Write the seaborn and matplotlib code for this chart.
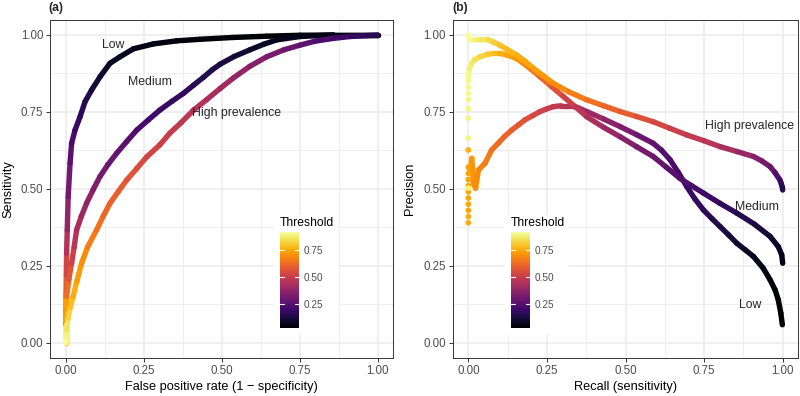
import numpy as np
import matplotlib
matplotlib.use("Agg")
import matplotlib.pyplot as plt
from matplotlib.collections import LineCollection
from matplotlib.colors import Normalize
from matplotlib.cm import ScalarMappable
from matplotlib.patches import Rectangle
import seaborn as sns

# ---- ROC curves: false positive rate, sensitivity, threshold ----
roc_low_fpr = [0.0, 0.0, 0.001, 0.002, 0.003, 0.005, 0.008, 0.014, 0.019, 0.030, 0.046,
               0.062, 0.083, 0.110, 0.142, 0.174, 0.217, 0.281, 0.356, 0.43, 0.537,
               0.644, 0.751, 0.858, 1.0]
roc_low_sens = [0.0, 0.06, 0.15, 0.22, 0.29, 0.366, 0.474, 0.583, 0.648, 0.691, 0.734,
                0.783, 0.821, 0.864, 0.908, 0.929, 0.955, 0.971, 0.981, 0.986, 0.992,
                0.996, 0.999, 1.0, 1.0]
roc_low_thr = [0.76, 0.68, 0.62, 0.56, 0.50, 0.42, 0.35, 0.28, 0.24, 0.21, 0.18,
               0.15, 0.13, 0.11, 0.09, 0.08, 0.07, 0.06, 0.055, 0.05, 0.045,
               0.04, 0.035, 0.032, 0.03]

roc_med_fpr = [0.0, 0.0, 0.003, 0.010, 0.019, 0.027, 0.035, 0.050, 0.067, 0.088, 0.110,
               0.135, 0.163, 0.195, 0.228, 0.265, 0.302, 0.340, 0.377, 0.410, 0.441,
               0.470, 0.495, 0.540, 0.591, 0.635, 0.676, 0.751, 0.858, 1.0]
roc_med_sens = [0.0, 0.07, 0.15, 0.205, 0.258, 0.31, 0.366, 0.41, 0.453, 0.497, 0.540,
                0.578, 0.615, 0.653, 0.691, 0.724, 0.756, 0.784, 0.810, 0.837, 0.862,
                0.887, 0.905, 0.930, 0.952, 0.970, 0.984, 0.995, 1.0, 1.0]
roc_med_thr = [0.90, 0.80, 0.66, 0.60, 0.54, 0.49, 0.45, 0.42, 0.39, 0.36, 0.33,
               0.30, 0.28, 0.26, 0.24, 0.22, 0.20, 0.19, 0.18, 0.16, 0.15,
               0.14, 0.13, 0.12, 0.10, 0.09, 0.08, 0.07, 0.065, 0.06]

roc_high_fpr = [0.0, 0.001, 0.003, 0.008, 0.015, 0.024, 0.036, 0.051, 0.070, 0.099, 0.120,
                0.142, 0.168, 0.196, 0.228, 0.260, 0.302, 0.334, 0.370, 0.409, 0.452,
                0.495, 0.537, 0.590, 0.644, 0.700, 0.751, 0.800, 0.858, 0.910, 0.965, 1.0]
roc_high_sens = [0.0, 0.02, 0.04, 0.08, 0.115, 0.15, 0.20, 0.258, 0.31, 0.366, 0.41,
                 0.453, 0.49, 0.529, 0.566, 0.604, 0.643, 0.681, 0.715, 0.755, 0.79,
                 0.826, 0.86, 0.898, 0.929, 0.952, 0.967, 0.98, 0.989, 0.995, 0.998, 1.0]
roc_high_thr = [0.92, 0.90, 0.88, 0.84, 0.80, 0.77, 0.74, 0.71, 0.68, 0.65, 0.63,
                0.61, 0.60, 0.58, 0.56, 0.54, 0.52, 0.50, 0.49, 0.47, 0.45,
                0.43, 0.40, 0.37, 0.34, 0.31, 0.28, 0.25, 0.22, 0.19, 0.17, 0.15]

# ---- PR curves: recall, precision, threshold ----
pr_low_rec = [0.005, 0.011, 0.016, 0.023, 0.032, 0.053, 0.074, 0.095, 0.115, 0.138,
              0.160, 0.180, 0.205, 0.228, 0.250, 0.270, 0.295, 0.323, 0.35, 0.377,
              0.43, 0.483, 0.535, 0.588, 0.615, 0.642, 0.668, 0.695, 0.72, 0.748,
              0.775, 0.801, 0.828, 0.854, 0.88, 0.907, 0.938, 0.960, 0.976, 0.986,
              0.994, 0.999]
pr_low_prec = [0.55, 0.599, 0.518, 0.502, 0.561, 0.583, 0.626, 0.648, 0.67, 0.691,
               0.708, 0.724, 0.738, 0.751, 0.760, 0.767, 0.77, 0.77, 0.763, 0.751,
               0.727, 0.702, 0.676, 0.648, 0.625, 0.594, 0.553, 0.507, 0.468, 0.431,
               0.403, 0.377, 0.350, 0.323, 0.302, 0.280, 0.242, 0.204, 0.171, 0.139,
               0.096, 0.058]
pr_low_thr = [0.74, 0.72, 0.71, 0.70, 0.69, 0.67, 0.65, 0.63, 0.615, 0.60,
              0.585, 0.57, 0.55, 0.53, 0.515, 0.50, 0.48, 0.46, 0.44, 0.42,
              0.385, 0.35, 0.315, 0.28, 0.26, 0.24, 0.22, 0.20, 0.185, 0.17,
              0.155, 0.14, 0.125, 0.11, 0.095, 0.08, 0.065, 0.055, 0.045, 0.04,
              0.035, 0.03]

pr_med_rec = [0.0, 0.003, 0.011, 0.02, 0.037, 0.06, 0.080, 0.10, 0.122, 0.15,
              0.175, 0.20, 0.228, 0.265, 0.302, 0.34, 0.377, 0.43, 0.483, 0.535,
              0.588, 0.63, 0.673, 0.71, 0.748, 0.80, 0.854, 0.91, 0.96, 0.986,
              0.997, 1.0]
pr_med_prec = [0.86, 0.89, 0.908, 0.92, 0.929, 0.937, 0.940, 0.94, 0.935, 0.925,
               0.908, 0.888, 0.864, 0.832, 0.800, 0.767, 0.734, 0.70, 0.669, 0.637,
               0.605, 0.57, 0.534, 0.51, 0.486, 0.453, 0.421, 0.385, 0.345, 0.312,
               0.285, 0.258]
pr_med_thr = [0.90, 0.89, 0.87, 0.86, 0.84, 0.81, 0.79, 0.77, 0.75, 0.73,
              0.70, 0.67, 0.64, 0.59, 0.54, 0.50, 0.46, 0.42, 0.38, 0.34,
              0.30, 0.275, 0.25, 0.23, 0.21, 0.185, 0.16, 0.135, 0.11, 0.09,
              0.075, 0.06]

pr_high_rec = [0.0, 0.005, 0.021, 0.04, 0.064, 0.08, 0.10, 0.12, 0.154, 0.18,
               0.207, 0.24, 0.270, 0.32, 0.377, 0.43, 0.483, 0.535, 0.588, 0.64,
               0.695, 0.75, 0.801, 0.855, 0.907, 0.933, 0.960, 0.976, 0.991, 0.995,
               0.999, 1.0]
pr_high_prec = [1.0, 0.985, 0.984, 0.985, 0.984, 0.977, 0.967, 0.955, 0.935, 0.915,
                0.892, 0.866, 0.843, 0.815, 0.789, 0.770, 0.751, 0.735, 0.718, 0.697,
                0.675, 0.656, 0.637, 0.621, 0.605, 0.591, 0.572, 0.552, 0.529, 0.518,
                0.505, 0.496]
pr_high_thr = [0.92, 0.91, 0.89, 0.87, 0.84, 0.82, 0.80, 0.78, 0.77, 0.75,
               0.74, 0.72, 0.71, 0.68, 0.65, 0.62, 0.60, 0.58, 0.55, 0.52,
               0.50, 0.48, 0.46, 0.42, 0.37, 0.34, 0.31, 0.27, 0.22, 0.19,
               0.16, 0.13]

# scattered points at recall = 0
pr_low_dots = [0.39, 0.41, 0.43, 0.45, 0.47, 0.49, 0.51, 0.53, 0.55, 0.57, 0.626]
pr_low_dots_thr = [0.75, 0.75, 0.74, 0.74, 0.74, 0.74, 0.74, 0.74, 0.74, 0.73, 0.76]
pr_med_dots = [0.502, 0.665, 0.73, 0.76, 0.79, 0.81, 0.83, 0.85, 0.87]
pr_med_dots_thr = [0.88, 0.89, 0.89, 0.89, 0.89, 0.90, 0.90, 0.90, 0.90]

all_thr = roc_low_thr + roc_med_thr + roc_high_thr + pr_low_thr + pr_med_thr + pr_high_thr
norm = Normalize(min(all_thr), max(all_thr))
cmap = "inferno"

sns.set_theme(style="whitegrid")
plt.rcParams['font.family'] = ['Liberation Sans', 'DejaVu Sans']

TICK_COL = '#4D4D4D'
GRID_COL = '#EBEBEB'


def draw_curve(ax, x, y, thr):
    pts = np.column_stack([x, y])
    segs = np.stack([pts[:-1], pts[1:]], axis=1)
    thr = np.asarray(thr)
    lc = LineCollection(segs, cmap=cmap, norm=norm, linewidths=3.9,
                        capstyle="round", joinstyle="round", zorder=2)
    lc.set_array((thr[:-1] + thr[1:]) / 2)
    ax.add_collection(lc)


def draw_dots(ax, x, y, thr):
    sns.scatterplot(x=x, y=y, hue=thr, palette=cmap, hue_norm=norm, s=17,
                    linewidth=0, legend=False, ax=ax, zorder=3)


def style_axis(ax, xlabel, ylabel):
    ax.set_xlim(-0.05, 1.05)
    ax.set_ylim(-0.05, 1.05)
    ticks = [0, 0.25, 0.5, 0.75, 1.0]
    labels = ["0.00", "0.25", "0.50", "0.75", "1.00"]
    ax.set_xticks(ticks, labels)
    ax.set_yticks(ticks, labels)
    ax.set_xticks([0.125, 0.375, 0.625, 0.875], minor=True)
    ax.set_yticks([0.125, 0.375, 0.625, 0.875], minor=True)
    ax.set_facecolor('white')
    ax.grid(which='major', color=GRID_COL, lw=1.1)
    ax.grid(which='minor', color=GRID_COL, lw=0.55)
    ax.set_axisbelow(True)
    for sp in ax.spines.values():
        sp.set_visible(True)
        sp.set_color('#333333')
        sp.set_linewidth(0.7)
    ax.tick_params(which='major', length=2.75, width=0.7, color='#333333',
                   labelsize=8.3, labelcolor=TICK_COL, pad=2, bottom=True, left=True)
    ax.tick_params(which='minor', length=0)
    ax.set_xlabel(xlabel, fontsize=9.2, color='black')
    ax.set_ylabel(ylabel, fontsize=9.2, color='black')
    ax.xaxis.set_label_coords(0.5, -0.068)
    ax.yaxis.set_label_coords(-0.105, 0.5)


def add_colorbar(fig, ax, box_x0, cb_left):
    ax.add_patch(Rectangle((box_x0, 0.068), 0.185, 0.355, transform=ax.transAxes,
                           facecolor='white', edgecolor='none', zorder=4))
    cax = fig.add_axes([cb_left, 0.171, 0.0241, 0.244])
    cb = fig.colorbar(ScalarMappable(norm=norm, cmap=cmap), cax=cax)
    cb.outline.set_visible(False)
    cb.set_ticks([0.25, 0.5, 0.75], labels=["0.25", "0.50", "0.75"])
    cax.tick_params(length=0, labelsize=7.2, labelcolor=TICK_COL, pad=3)
    for t in [0.25, 0.5, 0.75]:
        cax.plot([0, 0.2], [t, t], color='white', lw=0.8, transform=cax.get_yaxis_transform())
        cax.plot([0.8, 1.0], [t, t], color='white', lw=0.8, transform=cax.get_yaxis_transform())
    cax.set_title("Threshold", fontsize=8.7, loc='left', pad=4, color='black')


fig = plt.figure(figsize=(8, 3.96), dpi=100)
ax1 = fig.add_axes([0.0626, 0.096, 0.429, 0.8545])
ax2 = fig.add_axes([0.5658, 0.096, 0.4322, 0.8545])

# (a) ROC
draw_curve(ax1, roc_low_fpr, roc_low_sens, roc_low_thr)
draw_curve(ax1, roc_med_fpr, roc_med_sens, roc_med_thr)
draw_curve(ax1, roc_high_fpr, roc_high_sens, roc_high_thr)
style_axis(ax1, "False positive rate (1 \u2212 specificity)", "Sensitivity")
ax1.text(0.151, 0.967, "Low", ha='center', va='center', fontsize=8.8)
ax1.text(0.270, 0.848, "Medium", ha='center', va='center', fontsize=8.8)
ax1.text(0.549, 0.746, "High prevalence", ha='center', va='center', fontsize=8.8)

# (b) precision-recall
draw_dots(ax2, [0.0] * len(pr_low_dots), pr_low_dots, pr_low_dots_thr)
draw_curve(ax2, pr_low_rec, pr_low_prec, pr_low_thr)
draw_dots(ax2, [0.0] * len(pr_med_dots), pr_med_dots, pr_med_dots_thr)
draw_curve(ax2, pr_med_rec, pr_med_prec, pr_med_thr)
draw_curve(ax2, pr_high_rec, pr_high_prec, pr_high_thr)
style_axis(ax2, "Recall (sensitivity)", "Precision")
ax2.text(0.896, 0.705, "High prevalence", ha='center', va='center', fontsize=8.8)
ax2.text(0.917, 0.44, "Medium", ha='center', va='center', fontsize=8.8)
ax2.text(0.898, 0.1225, "Low", ha='center', va='center', fontsize=8.8)

add_colorbar(fig, ax1, 0.653, 280 / 800)
add_colorbar(fig, ax2, 0.152, 511 / 800)

fig.text(48 / 800, 1 - 8 / 396, "(a)", ha='left', va='center', fontsize=8.8, weight='bold')
fig.text(452 / 800, 1 - 8 / 396, "(b)", ha='left', va='center', fontsize=8.8, weight='bold')

fig.savefig("out.png", dpi=100)
